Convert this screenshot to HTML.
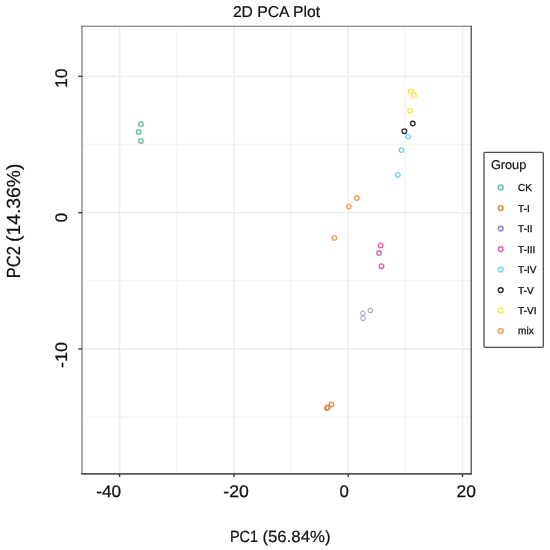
<!DOCTYPE html>
<html lang="en">
<head>
<meta charset="utf-8">
<title>2D PCA Plot</title>
<style>
html,body{margin:0;padding:0;background:#fff;}
body{width:550px;height:550px;overflow:hidden;}
svg{display:block;}
.a{font-family:"Liberation Sans",sans-serif;fill:#111;text-rendering:geometricPrecision;}
.b{stroke:#111;stroke-width:0.3px;}
.c{stroke:#111;stroke-width:0.2px;}
.d{stroke:#111;stroke-width:0.25px;}
</style>
</head>
<body>
<svg width="550" height="550" viewBox="0 0 550 550">
<rect x="0" y="0" width="550" height="550" fill="#ffffff"/>
<line x1="176.75" y1="26.5" x2="176.75" y2="474.0" stroke="#f5f5f5" stroke-width="1.6"/>
<line x1="291.05" y1="26.5" x2="291.05" y2="474.0" stroke="#f5f5f5" stroke-width="1.6"/>
<line x1="405.35" y1="26.5" x2="405.35" y2="474.0" stroke="#f5f5f5" stroke-width="1.6"/>
<line x1="82.3" y1="144.50" x2="471.5" y2="144.50" stroke="#f5f5f5" stroke-width="1.6"/>
<line x1="82.3" y1="280.80" x2="471.5" y2="280.80" stroke="#f5f5f5" stroke-width="1.6"/>
<line x1="82.3" y1="417.10" x2="471.5" y2="417.10" stroke="#f5f5f5" stroke-width="1.6"/>
<line x1="119.60" y1="26.5" x2="119.60" y2="474.0" stroke="#eeeeee" stroke-width="1.7"/>
<line x1="233.90" y1="26.5" x2="233.90" y2="474.0" stroke="#eeeeee" stroke-width="1.7"/>
<line x1="348.20" y1="26.5" x2="348.20" y2="474.0" stroke="#eeeeee" stroke-width="1.7"/>
<line x1="462.50" y1="26.5" x2="462.50" y2="474.0" stroke="#eeeeee" stroke-width="1.7"/>
<line x1="82.3" y1="76.35" x2="471.5" y2="76.35" stroke="#eeeeee" stroke-width="1.7"/>
<line x1="82.3" y1="212.65" x2="471.5" y2="212.65" stroke="#eeeeee" stroke-width="1.7"/>
<line x1="82.3" y1="348.95" x2="471.5" y2="348.95" stroke="#eeeeee" stroke-width="1.7"/>
<line x1="82.0" y1="25.8" x2="82.0" y2="474.7" stroke="#686868" stroke-width="1.1"/>
<line x1="81.45" y1="26.34" x2="472" y2="26.34" stroke="#686868" stroke-width="1.05"/>
<line x1="471.24" y1="25.8" x2="471.24" y2="474.7" stroke="#686868" stroke-width="1.52"/>
<line x1="81.45" y1="473.78" x2="472" y2="473.78" stroke="#555555" stroke-width="1.8"/>
<line x1="119.60" y1="474.0" x2="119.60" y2="477.0" stroke="#3a3a3a" stroke-width="1.4"/>
<line x1="233.90" y1="474.0" x2="233.90" y2="477.0" stroke="#3a3a3a" stroke-width="1.4"/>
<line x1="348.20" y1="474.0" x2="348.20" y2="477.0" stroke="#3a3a3a" stroke-width="1.4"/>
<line x1="462.50" y1="474.0" x2="462.50" y2="477.0" stroke="#3a3a3a" stroke-width="1.4"/>
<line x1="78.3" y1="76.35" x2="82.3" y2="76.35" stroke="#3a3a3a" stroke-width="1.4"/>
<line x1="78.3" y1="212.65" x2="82.3" y2="212.65" stroke="#3a3a3a" stroke-width="1.4"/>
<line x1="78.3" y1="348.95" x2="82.3" y2="348.95" stroke="#3a3a3a" stroke-width="1.4"/>
<circle cx="140.9" cy="124.3" r="2.3" fill="none" stroke="#66c2a5" stroke-width="1.35"/>
<circle cx="138.7" cy="132.0" r="2.3" fill="none" stroke="#66c2a5" stroke-width="1.35"/>
<circle cx="140.9" cy="140.9" r="2.3" fill="none" stroke="#66c2a5" stroke-width="1.35"/>
<circle cx="331.4" cy="404.3" r="2.3" fill="none" stroke="#e6873f" stroke-width="1.25"/>
<circle cx="327.7" cy="407.3" r="2.3" fill="none" stroke="#e6873f" stroke-width="1.25"/>
<circle cx="326.9" cy="408.0" r="2.3" fill="none" stroke="#e6873f" stroke-width="1.25"/>
<circle cx="370.3" cy="310.5" r="2.3" fill="none" stroke="#8a84c8" stroke-width="0.9"/>
<circle cx="362.9" cy="313.2" r="2.3" fill="none" stroke="#8a84c8" stroke-width="0.9"/>
<circle cx="363.0" cy="318.3" r="2.3" fill="none" stroke="#8a84c8" stroke-width="0.9"/>
<circle cx="380.7" cy="245.4" r="2.3" fill="none" stroke="#ee5fb0" stroke-width="1.35"/>
<circle cx="379.1" cy="253.0" r="2.3" fill="none" stroke="#ee5fb0" stroke-width="1.35"/>
<circle cx="381.5" cy="266.2" r="2.3" fill="none" stroke="#ee5fb0" stroke-width="1.35"/>
<circle cx="408.1" cy="136.6" r="2.3" fill="none" stroke="#72d6f3" stroke-width="1.35"/>
<circle cx="401.5" cy="150.1" r="2.3" fill="none" stroke="#72d6f3" stroke-width="1.35"/>
<circle cx="397.8" cy="174.9" r="2.3" fill="none" stroke="#72d6f3" stroke-width="1.35"/>
<circle cx="412.75" cy="123.6" r="2.3" fill="none" stroke="#2e2e2e" stroke-width="1.35"/>
<circle cx="404.3" cy="131.2" r="2.3" fill="none" stroke="#2e2e2e" stroke-width="1.35"/>
<circle cx="410.9" cy="91.5" r="2.3" fill="none" stroke="#ffe352" stroke-width="1.45"/>
<circle cx="414.0" cy="95.3" r="2.3" fill="none" stroke="#ffe352" stroke-width="1.45"/>
<circle cx="410.1" cy="110.7" r="2.3" fill="none" stroke="#ffe352" stroke-width="1.45"/>
<circle cx="356.8" cy="198.0" r="2.3" fill="none" stroke="#fb9a5f" stroke-width="1.35"/>
<circle cx="348.9" cy="206.6" r="2.3" fill="none" stroke="#fb9a5f" stroke-width="1.35"/>
<circle cx="334.4" cy="237.9" r="2.3" fill="none" stroke="#fb9a5f" stroke-width="1.35"/>
<rect x="484.0" y="152.4" width="59.3" height="194.9" rx="1" fill="#fff" stroke="#4d4d4d" stroke-width="1.3"/>
<text x="490.9" y="169.3" font-size="12.8" class="a c" textLength="35.4" lengthAdjust="spacingAndGlyphs">Group</text>
<circle cx="500.7" cy="187.4" r="2.4" fill="none" stroke="#66c2a5" stroke-width="1.45"/>
<text x="518.1" y="190.9" font-size="10" class="a b">CK</text>
<circle cx="500.7" cy="208.0" r="2.4" fill="none" stroke="#e6873f" stroke-width="1.45"/>
<text x="518.1" y="211.5" font-size="10" class="a b">T-I</text>
<circle cx="500.7" cy="228.6" r="2.4" fill="none" stroke="#8a84c8" stroke-width="1.45"/>
<text x="518.1" y="232.1" font-size="10" class="a b">T-II</text>
<circle cx="500.7" cy="249.1" r="2.4" fill="none" stroke="#ee5fb0" stroke-width="1.45"/>
<text x="518.1" y="252.6" font-size="10" class="a b">T-III</text>
<circle cx="500.7" cy="269.6" r="2.4" fill="none" stroke="#72d6f3" stroke-width="1.45"/>
<text x="518.1" y="273.1" font-size="10" class="a b">T-IV</text>
<circle cx="500.7" cy="290.1" r="2.4" fill="none" stroke="#2e2e2e" stroke-width="1.45"/>
<text x="518.1" y="293.6" font-size="10" class="a b">T-V</text>
<circle cx="500.7" cy="310.5" r="2.4" fill="none" stroke="#ffe352" stroke-width="1.45"/>
<text x="518.1" y="314.0" font-size="10" class="a b">T-VI</text>
<circle cx="500.7" cy="330.9" r="2.4" fill="none" stroke="#fb9a5f" stroke-width="1.45"/>
<text x="518.1" y="334.4" font-size="10" class="a b">mix</text>
<text x="232.9" y="16.5" font-size="15.7" class="a c" textLength="87.1" lengthAdjust="spacingAndGlyphs">2D PCA Plot</text>
<text x="96.3" y="496.6" font-size="16.8" class="a d" textLength="24.9" lengthAdjust="spacingAndGlyphs">-40</text>
<text x="223.3" y="496.6" font-size="16.8" class="a d" textLength="25.5" lengthAdjust="spacingAndGlyphs">-20</text>
<text x="339.6" y="496.6" font-size="16.8" class="a d">0</text>
<text x="456.5" y="496.6" font-size="16.8" class="a d" textLength="19.4" lengthAdjust="spacingAndGlyphs">20</text>
<text y="541.7" font-size="16.2" class="a c"><tspan x="229.9" textLength="28.3" lengthAdjust="spacingAndGlyphs">PC1</tspan> <tspan x="262.4" textLength="68.1" lengthAdjust="spacingAndGlyphs">(56.84%)</tspan></text>
<text transform="translate(67,88) rotate(-90)" font-size="16.8" class="a d" textLength="19.6" lengthAdjust="spacingAndGlyphs">10</text>
<text transform="translate(67,222.2) rotate(-90)" font-size="16.8" class="a d">0</text>
<text transform="translate(67,368) rotate(-90)" font-size="16.8" class="a d" textLength="26.2" lengthAdjust="spacingAndGlyphs">-10</text>
<text transform="translate(20.3,0) rotate(-90)" y="0" font-size="19" class="a c"><tspan x="-278.2" textLength="32" lengthAdjust="spacingAndGlyphs">PC2</tspan> <tspan x="-242" textLength="78.5" lengthAdjust="spacingAndGlyphs">(14.36%)</tspan></text>
</svg>
</body>
</html>
